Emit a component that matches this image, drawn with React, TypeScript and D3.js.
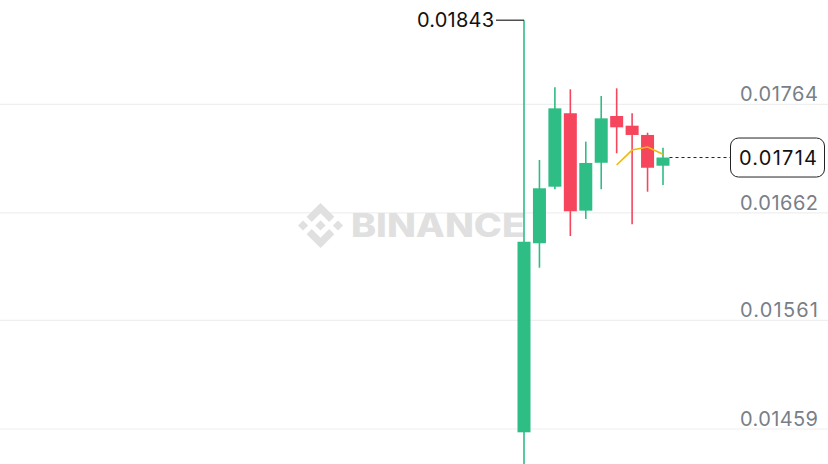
import React from "react";
import * as d3 from "d3";

const W = 828;
const H = 464;

const opens = [0.014559, 0.016335, 0.016866, 0.017556, 0.016641, 0.017091, 0.01753, 0.017439, 0.017352, 0.017063];
const closes = [0.016349, 0.016851, 0.017602, 0.016635, 0.017089, 0.017508, 0.017424, 0.017352, 0.017044, 0.01714];
const highs = [0.01843, 0.017117, 0.0178, 0.017781, 0.017289, 0.017718, 0.01779, 0.017555, 0.017373, 0.017232];
const lows = [0.0142, 0.016105, 0.016842, 0.016403, 0.016563, 0.016842, 0.01718, 0.016513, 0.016819, 0.016882];
const maIdx = [6, 7, 8, 9];
const maVals = [0.01707, 0.01721, 0.017239, 0.01717];
const tickVals = [0.01764, 0.01662, 0.01561, 0.01459];
const tickLabels = ["0.01764", "0.01662", "0.01561", "0.01459"];
const highLabel = "0.01843";
const lastPrice = 0.01714;
const lastLabel = "0.01714";

const GREEN = "#2ebd85";
const RED = "#f6465d";
const FONT = "Inter, 'Noto Sans', sans-serif";

const LOGO =
  "M38.73 53.2l24.59-24.58 24.6 24.6 14.3-14.31L63.32 0 24.41 38.9l14.32 14.3zM0 63.31l14.3-14.31 14.31 14.31-14.31 14.3zm38.73 10.1l24.59 24.59 24.6-24.6 14.31 14.29-38.9 38.91-38.91-38.88-.02-.02 14.33-14.29zm59.56-10.1l14.31-14.31 14.31 14.31-14.31 14.3zM77.83 63.3L63.32 48.78 52.59 59.51l-1.24 1.23-2.54 2.54 14.51 14.5 14.51-14.47z";

export default function App() {
  const y = d3.scaleLinear().domain([0.01459, 0.01764]).range([429, 104.3]);
  const x = d3.scaleLinear().domain([0, 9]).range([524, 663]);
  const bw = 13;
  const line = d3
    .line<number>()
    .x((_, i) => x(maIdx[i]))
    .y((d) => y(d))
    .curve(d3.curveLinear);

  const hx = x(0);
  const hy = y(highs[0]);
  const ly = y(lastPrice);

  return (
    <svg
      width={W}
      height={H}
      style={{ position: "absolute", left: 0, top: 0, background: "#fff" }}
    >
      {tickVals.map((v, i) => (
        <line key={"g" + i} x1={0} x2={W} y1={y(v)} y2={y(v)} stroke="#efefef" strokeWidth={1.2} />
      ))}
      {/* watermark */}
      <g>
        <path d={LOGO} fill="#e0e0e0" transform="translate(298,203) scale(0.355)" />
        <text
          x={351}
          y={237}
          fontFamily={FONT}
          fontWeight={800}
          fontSize={32}
          fill="#e0e0e0"
          textLength={174}
          lengthAdjust="spacingAndGlyphs"
        >
          BINANCE
        </text>
      </g>
      {tickVals.map((v, i) => (
        <text
          key={"t" + i}
          x={818}
          y={y(v) - 3}
          textAnchor="end"
          fontFamily={FONT}
          fontSize={20}
          fill="#787f88"
          textLength={78}
          lengthAdjust="spacing"
        >
          {tickLabels[i]}
        </text>
      ))}
      {opens.map((o, i) => {
        const c = closes[i];
        const col = c >= o ? GREEN : RED;
        const top = y(Math.max(o, c));
        const bot = y(Math.min(o, c));
        return (
          <g key={"c" + i}>
            <line x1={x(i)} x2={x(i)} y1={y(highs[i])} y2={y(lows[i])} stroke={col} strokeWidth={1.6} />
            <rect x={x(i) - bw / 2} y={top} width={bw} height={Math.max(1, bot - top)} fill={col} />
          </g>
        );
      })}
      <path d={line(maVals) || ""} fill="none" stroke="#f0b90b" strokeWidth={1.6} />
      {/* high label */}
      <line x1={496} x2={hx} y1={hy} y2={hy} stroke="#222" strokeWidth={1.2} />
      <text
        x={494}
        y={hy + 7}
        textAnchor="end"
        fontFamily={FONT}
        fontSize={20}
        fill="#111"
        textLength={77}
        lengthAdjust="spacing"
      >
        {highLabel}
      </text>
      {/* last price */}
      <line x1={x(9) + bw / 2} x2={730} y1={ly} y2={ly} stroke="#222" strokeWidth={1} strokeDasharray="3,3" />
      <rect x={730.5} y={ly - 19.5} width={94} height={39} rx={8} fill="#fff" stroke="#222" strokeWidth={1} />
      <text
        x={739}
        y={ly + 7}
        fontFamily={FONT}
        fontSize={20}
        fill="#111"
        textLength={78}
        lengthAdjust="spacing"
      >
        {lastLabel}
      </text>
    </svg>
  );
}
